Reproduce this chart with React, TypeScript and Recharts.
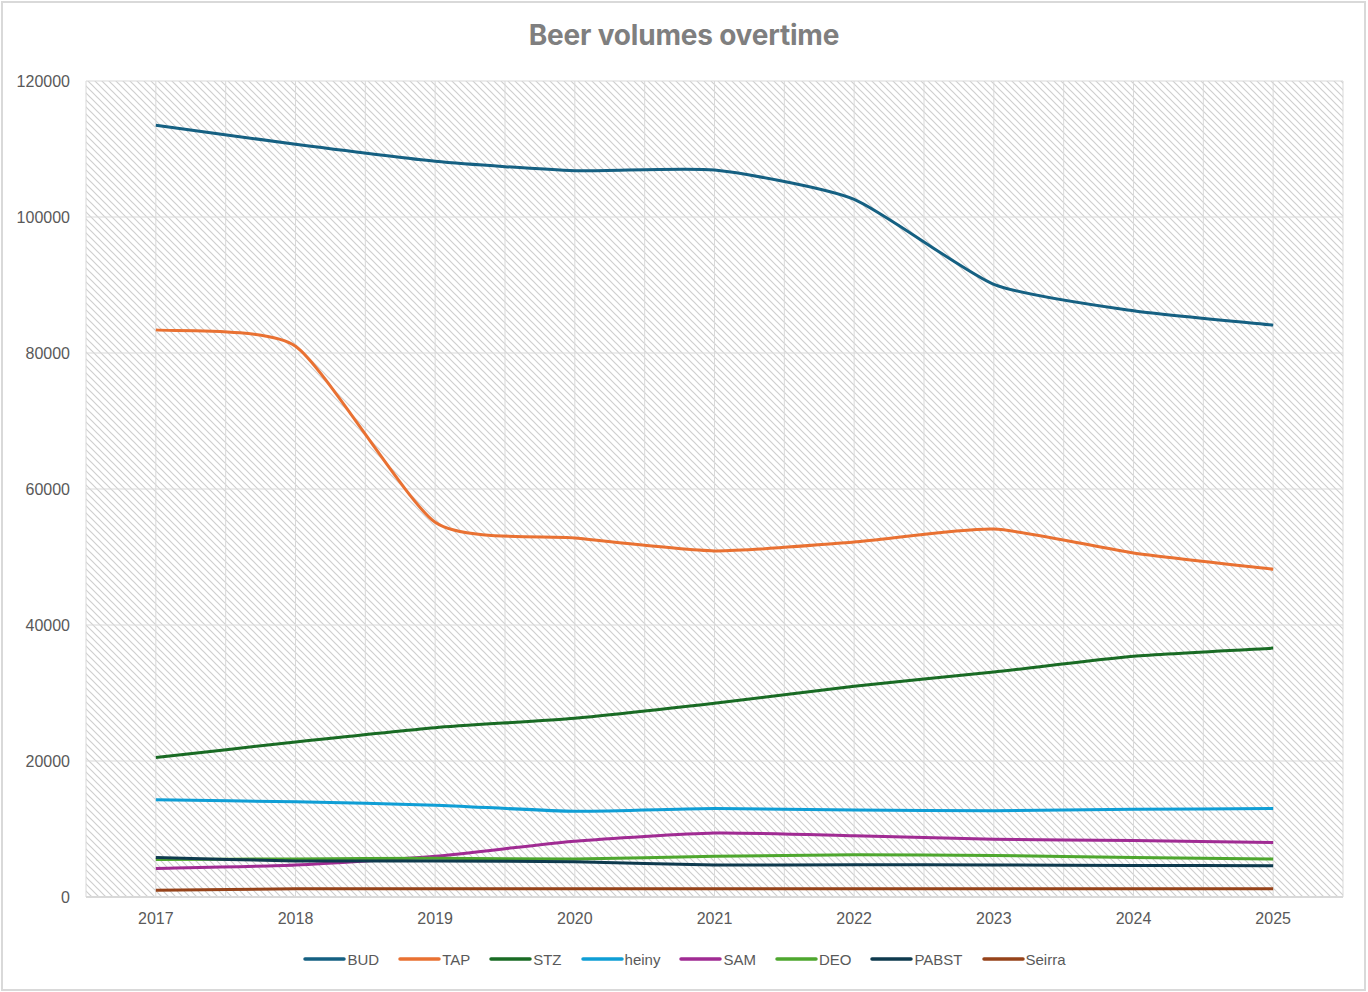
import React from "react";
import { LineChart, Line, XAxis, YAxis, CartesianGrid, Legend } from "recharts";

const years = [2017, 2018, 2019, 2020, 2021, 2022, 2023, 2024, 2025];
const bud = [113500, 110700, 108200, 106800, 106900, 102600, 90100, 86200, 84100];
const tap = [83400, 81000, 55100, 52800, 50900, 52200, 54100, 50600, 48200];
const stz = [20500, 22800, 24900, 26300, 28500, 31000, 33100, 35400, 36600];
const heiny = [14300, 14000, 13500, 12600, 13000, 12800, 12700, 12900, 13000];
const sam = [4200, 4700, 6000, 8200, 9400, 9000, 8500, 8300, 8000];
const deo = [5500, 5600, 5700, 5600, 6000, 6200, 6100, 5800, 5600];
const pabst = [5800, 5300, 5300, 5200, 4700, 4750, 4700, 4650, 4600];
const seirra = [1000, 1200, 1200, 1200, 1200, 1200, 1200, 1200, 1200];

const yTicks = [0, 20000, 40000, 60000, 80000, 100000, 120000];
const title = "Beer volumes overtime";

const seriesList = [
  { key: "BUD", values: bud, color: "#156082" },
  { key: "TAP", values: tap, color: "#E97132" },
  { key: "STZ", values: stz, color: "#196B24" },
  { key: "heiny", values: heiny, color: "#0F9ED5" },
  { key: "SAM", values: sam, color: "#A02B93" },
  { key: "DEO", values: deo, color: "#4EA72E" },
  { key: "PABST", values: pabst, color: "#0E3A4E" },
  { key: "Seirra", values: seirra, color: "#96431A" },
];

const data = years.map((y, i) => {
  const row: Record<string, number> = { year: y };
  seriesList.forEach((s) => {
    row[s.key] = s.values[i];
  });
  return row;
});

// grid ticks at category centres and band boundaries
const xTicks: number[] = [];
for (let i = 0; i <= years.length * 2; i++) xTicks.push(years[0] - 0.5 + i * 0.5);

// mild Excel-like smoothing (Catmull-Rom tangents, reduced)
const SMOOTH = 1 / 10;
const excelSmooth = (context: any) => {
  let pts: [number, number][] = [];
  return {
    areaStart() {},
    areaEnd() {},
    lineStart() {
      pts = [];
    },
    point(x: number, y: number) {
      pts.push([+x, +y]);
    },
    lineEnd() {
      const n = pts.length;
      if (!n) return;
      context.moveTo(pts[0][0], pts[0][1]);
      for (let i = 0; i < n - 1; i++) {
        const p0 = pts[i - 1] || pts[i];
        const p1 = pts[i];
        const p2 = pts[i + 1];
        const p3 = pts[i + 2] || pts[i + 1];
        const c1x = p1[0] + (p2[0] - p0[0]) * SMOOTH;
        const c1y = p1[1] + (p2[1] - p0[1]) * SMOOTH;
        const c2x = p2[0] - (p3[0] - p1[0]) * SMOOTH;
        const c2y = p2[1] - (p3[1] - p1[1]) * SMOOTH;
        context.bezierCurveTo(c1x, c1y, c2x, c2y, p2[0], p2[1]);
      }
    },
  };
};

const FONT = "'Liberation Sans', Arial, sans-serif";

const LegendContent = () => (
  <div
    style={{
      height: 30,
      display: "flex",
      justifyContent: "center",
      alignItems: "center",
      fontFamily: FONT,
      fontSize: 15,
      color: "#595959",
      paddingLeft: 26,
      boxSizing: "border-box",
    }}
  >
    {seriesList.map((s, i) => (
      <div
        key={s.key}
        style={{ display: "flex", alignItems: "center", marginRight: i === seriesList.length - 1 ? 0 : 19 }}
      >
        <svg width={43} height={8} style={{ display: "block" }}>
          <line x1={2} y1={4} x2={41} y2={4} stroke={s.color} strokeWidth={3.5} strokeLinecap="round" />
        </svg>
        <span style={{ marginLeft: 1 }}>{s.key}</span>
      </div>
    ))}
  </div>
);

export default function App() {
  return (
    <div style={{ position: "absolute", left: 0, top: 0, width: 1368, height: 992, background: "#fff" }}>
      <svg width={0} height={0} style={{ position: "absolute" }}>
        <defs>
          <pattern id="hatch" width={7} height={7} patternUnits="userSpaceOnUse">
            <path d="M0,0 L7,7 M-1,6 L1,8 M6,-1 L8,1" stroke="#cfcfcf" strokeWidth={1.2} />
          </pattern>
        </defs>
      </svg>
      <div
        style={{
          position: "absolute",
          left: 1,
          top: 1,
          width: 1361,
          height: 986,
          border: "2px solid #d9d9d9",
          pointerEvents: "none",
        }}
      />
      <div
        style={{
          position: "absolute",
          left: 0,
          top: 17,
          width: 1368,
          textAlign: "center",
          fontFamily: "Inter, sans-serif",
          fontWeight: 700,
          fontSize: 28,
          color: "#7f7f7f",
          lineHeight: "36px",
          letterSpacing: -0.2,
        }}
      >
        {title}
      </div>
      <LineChart width={1368} height={992} data={data} margin={{ top: 81, right: 25, left: 0, bottom: 18 }}>
        <CartesianGrid stroke="#d9d9d9" strokeWidth={1} fill="url(#hatch)" fillOpacity={1} />
        <XAxis
          dataKey="year"
          type="number"
          domain={[years[0] - 0.5, years[years.length - 1] + 0.5]}
          ticks={xTicks}
          interval={0}
          tickFormatter={(v: number) => (Number.isInteger(v) ? String(v) : "")}
          tickLine={false}
          tickSize={0}
          tickMargin={16}
          axisLine={{ stroke: "#d9d9d9", strokeWidth: 2 }}
          height={47}
          tick={{ fill: "#595959", fontSize: 16, fontFamily: FONT }}
        />
        <YAxis
          domain={[0, 120000]}
          ticks={yTicks}
          interval={0}
          width={86}
          axisLine={false}
          tickLine={false}
          tickSize={0}
          tickMargin={16}
          tick={{ fill: "#595959", fontSize: 16, fontFamily: FONT }}
        />
        <Legend
          verticalAlign="bottom"
          wrapperStyle={{ left: 0, width: 1343 }}
          content={<LegendContent />}
        />
        {seriesList.map((s) => (
          <Line
            key={s.key}
            type={excelSmooth as any}
            dataKey={s.key}
            stroke={s.color}
            strokeWidth={3}
            dot={false}
            activeDot={false}
            isAnimationActive={false}
          />
        ))}
      </LineChart>
    </div>
  );
}
